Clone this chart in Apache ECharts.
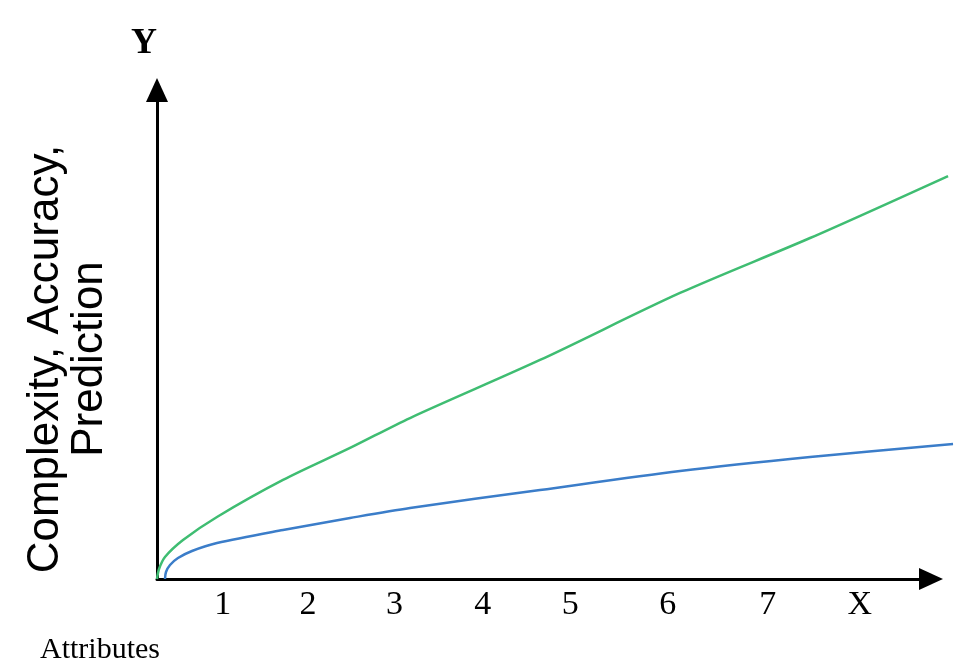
<!DOCTYPE html>
<html>
<head>
<meta charset="utf-8">
<script src="https://cdn.jsdelivr.net/npm/echarts@6/dist/echarts.min.js"></script>
<style>
  html, body { margin: 0; padding: 0; background: #fff; }
  #chart { width: 969px; height: 665px; }
</style>
</head>
<body>
<div id="chart"></div>
<script>
// tick positions on the x scale and the text shown there
const tickPositions = [0.85, 1.95, 3.07, 4.21, 5.34, 6.60, 7.89, 9.08];
const tickLabels = ['1', '2', '3', '4', '5', '6', '7', 'X'];

// upper curve (green)
const greenX = [0, 0.026, 0.103, 0.336, 0.775, 1.628, 2.494, 3.269, 4.948, 6.757, 8.437, 10.22];
const greenY = [0, 0.204, 0.45, 0.798, 1.268, 2.025, 2.679, 3.292, 4.479, 5.849, 6.973, 8.241];

// lower curve (blue)
const blueX = [0.103, 0.116, 0.168, 0.271, 0.452, 0.775, 1.628, 2.494, 3.269, 4.948, 6.757, 8.437, 10.284];
const blueY = [0, 0.143, 0.286, 0.429, 0.573, 0.736, 1.002, 1.247, 1.452, 1.820, 2.209, 2.495, 2.761];

function pairs(xs, ys) {
  return xs.map((x, i) => [x, ys[i]]);
}

const myChart = echarts.init(document.getElementById('chart'));

const axisLine = {
  show: true,
  symbol: ['none', 'triangle'],
  symbolSize: [22, 24],
  lineStyle: { color: '#000', width: 3 }
};

// grid 0 carries the curves (a bit wider, they run past the arrow),
// grid 1 carries the visible axes; both share the same x scale
const option = {
  animation: false,
  grid: [
    { left: 157, right: 7, top: 90, bottom: 86 },
    { left: 157, right: 38, top: 90, bottom: 86 }
  ],
  xAxis: [
    {
      gridIndex: 0,
      type: 'value',
      min: 0,
      max: 10.4,
      show: false
    },
    {
      gridIndex: 1,
      type: 'value',
      min: 0,
      max: 10,
      axisLine: axisLine,
      axisTick: { show: false },
      splitLine: { show: false },
      axisLabel: {
        customValues: tickPositions,
        margin: 9,
        color: '#000',
        fontFamily: 'Liberation Serif',
        fontSize: 34,
        formatter: (v) => {
          const i = tickPositions.indexOf(v);
          return i >= 0 ? tickLabels[i] : '';
        }
      }
    }
  ],
  yAxis: [
    {
      gridIndex: 0,
      type: 'value',
      min: 0,
      max: 10,
      show: false
    },
    {
      gridIndex: 1,
      type: 'value',
      min: 0,
      max: 10,
      axisLine: axisLine,
      axisTick: { show: false },
      splitLine: { show: false },
      axisLabel: { show: false },
      name: 'Y',
      nameLocation: 'end',
      nameGap: 28,
      nameTextStyle: {
        color: '#000',
        fontFamily: 'Liberation Serif',
        fontWeight: 'bold',
        fontSize: 36,
        align: 'right'
      }
    }
  ],
  graphic: [
    {
      type: 'text',
      left: 40,
      top: 635,
      style: {
        text: 'Attributes',
        fill: '#000',
        font: '30px "Liberation Serif"'
      }
    },
    {
      type: 'text',
      x: 68,
      y: 359,
      rotation: Math.PI / 2,
      style: {
        text: 'Complexity, Accuracy,\nPrediction',
        fill: '#000',
        font: '44px "Liberation Sans"',
        align: 'center',
        verticalAlign: 'middle',
        lineHeight: 44
      }
    }
  ],
  series: [
    {
      name: 'upper',
      type: 'line',
      xAxisIndex: 0,
      yAxisIndex: 0,
      data: pairs(greenX, greenY),
      smooth: 0.3,
      showSymbol: false,
      lineStyle: { color: '#3fbd72', width: 2.5 }
    },
    {
      name: 'lower',
      type: 'line',
      xAxisIndex: 0,
      yAxisIndex: 0,
      data: pairs(blueX, blueY),
      smooth: 0.3,
      showSymbol: false,
      lineStyle: { color: '#3b7dc9', width: 2.5 }
    }
  ]
};

myChart.setOption(option);
</script>
</body>
</html>
